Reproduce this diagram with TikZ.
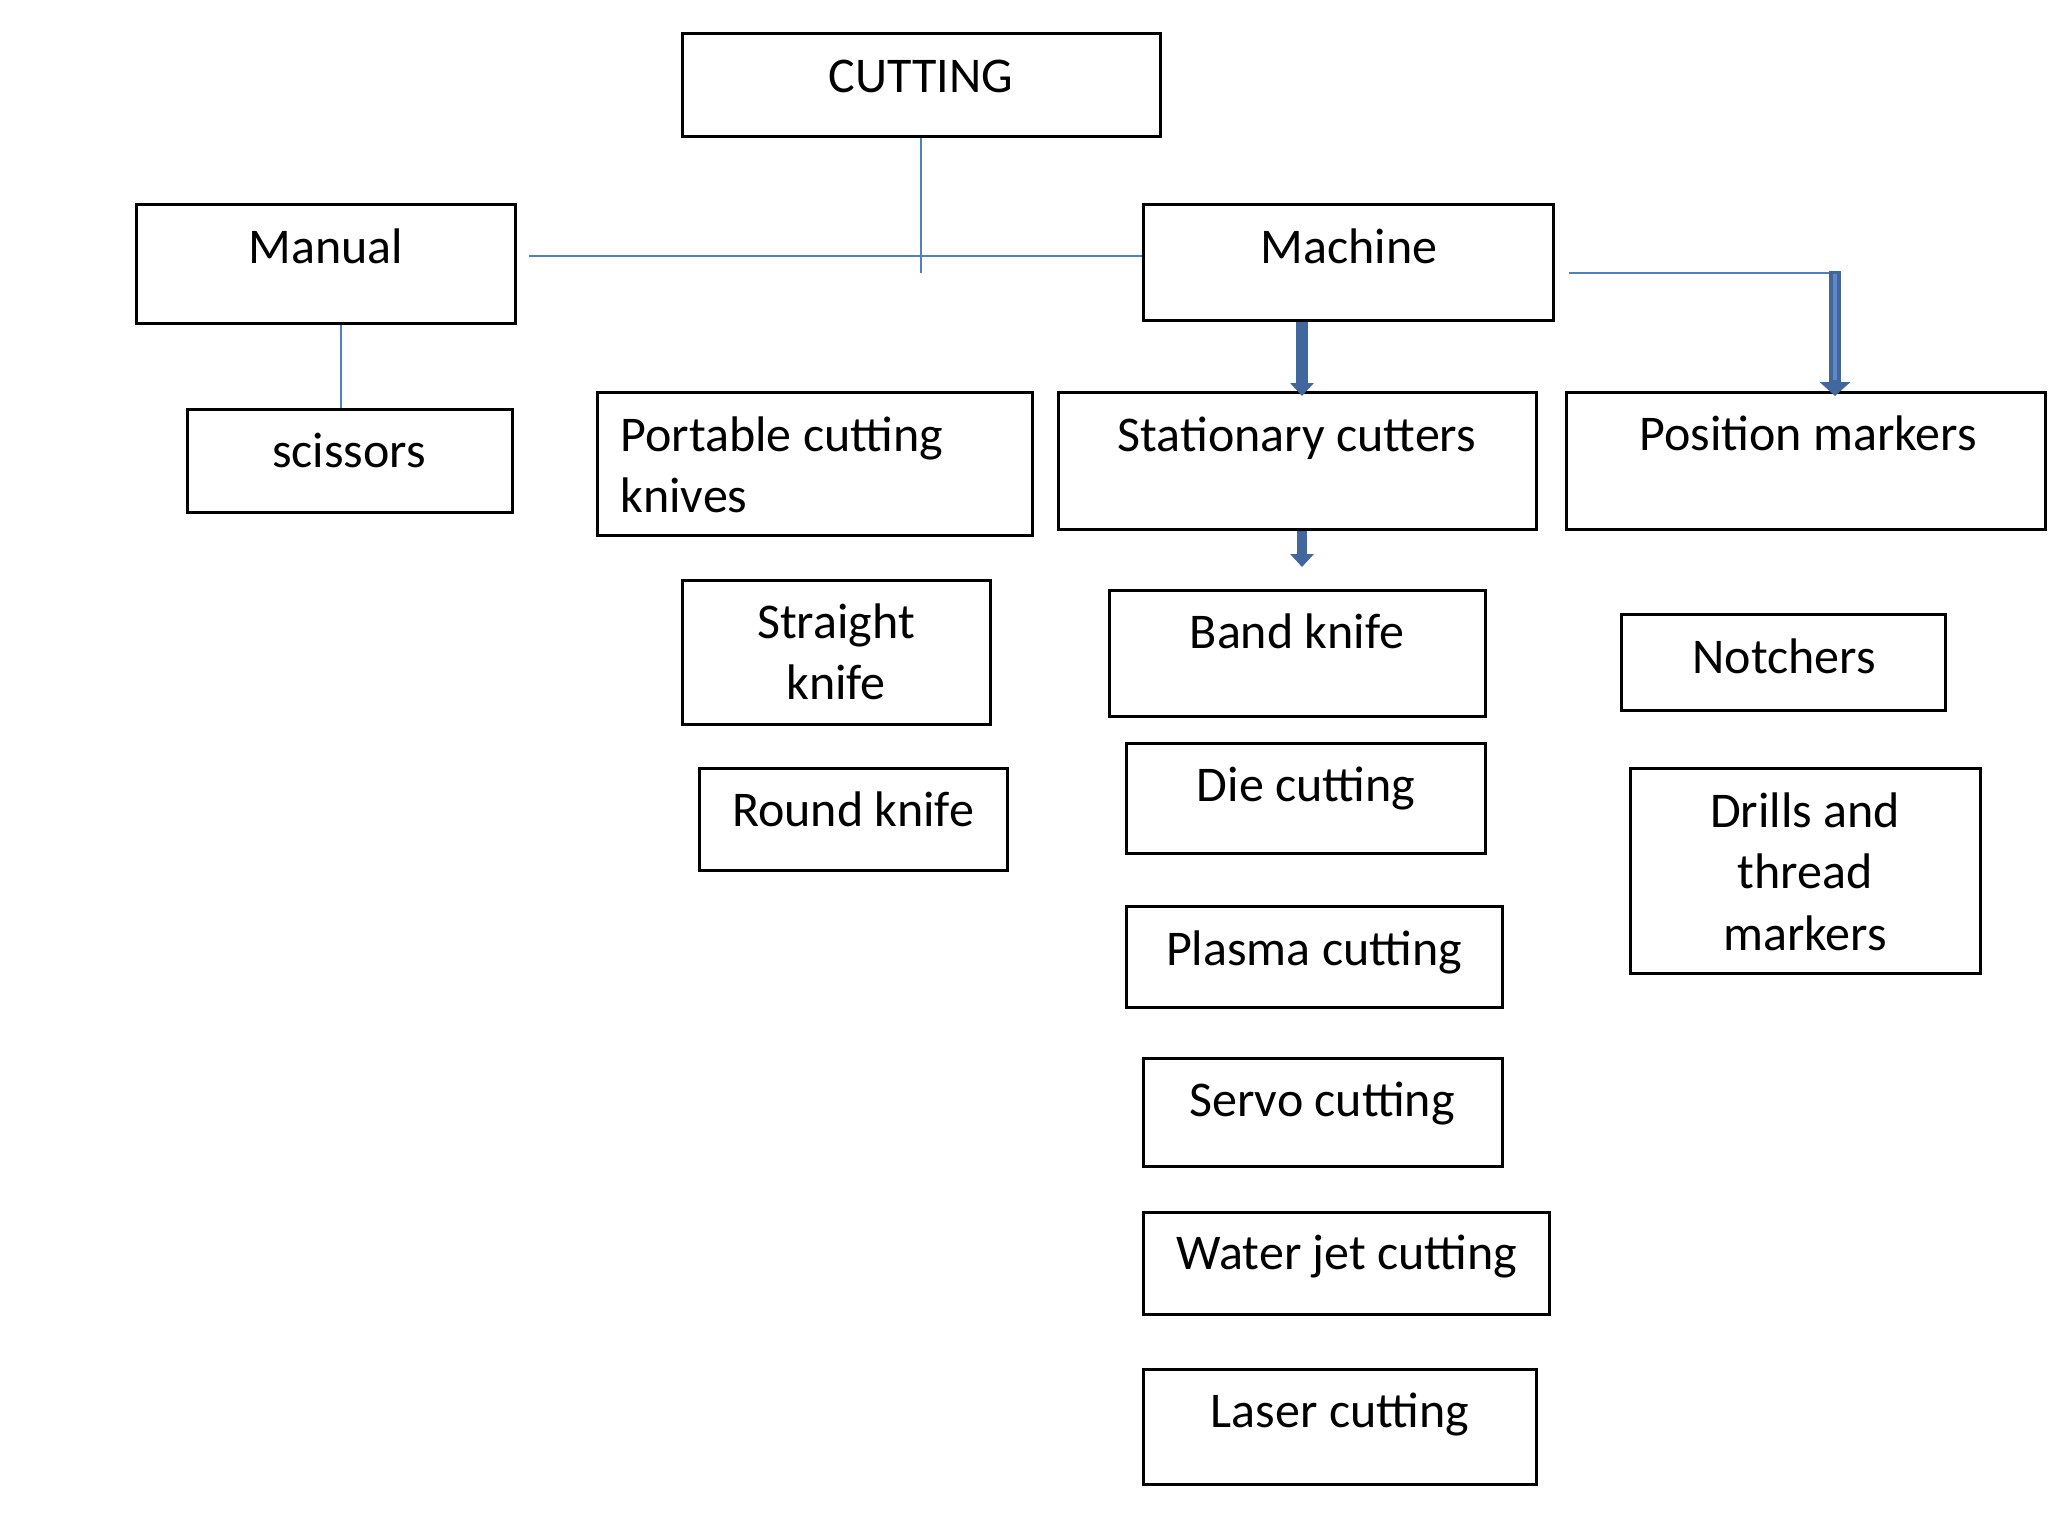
\documentclass[tikz,border=0pt]{standalone}
\usepackage{fontspec}
\setmainfont{Carlito}
\usetikzlibrary{arrows.meta,fit,calc}
\definecolor{linkblue}{HTML}{4F81BD}
\definecolor{arrowblue}{HTML}{41679D}
\definecolor{stripeblue}{HTML}{5F88C4}
\begin{document}
\begin{tikzpicture}[x=0.5pt,y=-0.5pt,
  box/.style={draw=black,line width=1.5pt,inner sep=0pt,rectangle},
  txt/.style={inner sep=0pt,font=\fontsize{25}{30.75}\selectfont,anchor=base},
  thinlink/.style={draw=linkblue,line width=1pt},
  bigarrow/.style={draw=arrowblue,line width=6pt,-{Triangle[width=11.5pt,length=6.5pt]}},
  widearrow/.style={draw=arrowblue,line width=6.3pt,-{Triangle[width=15pt,length=7pt]}},
  smallarrow/.style={draw=arrowblue,line width=5pt,-{Triangle[width=11.5pt,length=6.5pt]}}]
\useasboundingbox[fill=white] (0,0) rectangle (2048,1536);

% boxes
\node[box,fit={(682,34)(1160,136)}] (cut) {};
\node[box,fit={(136,204)(515,323)}] (man) {};
\node[box,fit={(1143,204)(1553,320)}] (mac) {};
\node[box,fit={(187,409)(512,512)}] (sci) {};
\node[box,fit={(597,392)(1032,535)}] (port) {};
\node[box,fit={(1058,392)(1536,529)}] (stat) {};
\node[box,fit={(1566,392)(2045,529)}] (pos) {};
\node[box,fit={(682,580)(990,724)}] (str) {};
\node[box,fit={(699,768)(1007,870)}] (rnd) {};
\node[box,fit={(1109,590)(1485,716)}] (band) {};
\node[box,fit={(1126,743)(1485,853)}] (die) {};
\node[box,fit={(1126,906)(1502,1007)}] (plas) {};
\node[box,fit={(1143,1058)(1502,1166)}] (servo) {};
\node[box,fit={(1143,1212)(1549,1314)}] (water) {};
\node[box,fit={(1143,1369)(1536,1484)}] (laser) {};
\node[box,fit={(1621,614)(1945,710)}] (notch) {};
\node[box,fit={(1630,768)(1980,973)}] (drill) {};

% texts
\node[txt] (tcut) at (921,92) {CUTTING};
\node[txt] (tman) at (326,263) {Manual};
\node[txt] (tmac) at (1349,263) {Machine};
\node[txt] (tsci) at (349,467) {scissors};
\node[txt,anchor=base west] (tport) at (620,451) {\begin{tabular}[t]{@{}l@{}}Portable cutting\\knives\end{tabular}};
\node[txt] (tstat) at (1297,451) {Stationary cutters};
\node[txt] (tpos) at (1808,450) {Position markers};
\node[txt] (tstr) at (836,638) {\begin{tabular}[t]{@{}c@{}}Straight\\knife\end{tabular}};
\node[txt] (trnd) at (853,826) {Round knife};
\node[txt] (tband) at (1297,648) {Band knife};
\node[txt] (tdie) at (1306,801) {Die cutting};
\node[txt] (tplas) at (1314,965) {Plasma cutting};
\node[txt] (tservo) at (1322,1116) {Servo cutting};
\node[txt] (twater) at (1347,1269) {Water jet cutting};
\node[txt] (tlaser) at (1340,1427) {Laser cutting};
\node[txt] (tnotch) at (1784,673) {Notchers};
\node[txt] (tdrill) at (1805,827) {\begin{tabular}[t]{@{}c@{}}Drills and\\thread\\markers\end{tabular}};

% connectors
\coordinate (hl) at (529,256);
\coordinate (vj) at (921,273);
\coordinate (msx) at (341,0);
\coordinate (mr) at (1569,273);
\coordinate (pc) at (1835,271);
\coordinate (ptip) at (1835,396);
\coordinate (ax) at (1302,0);
\coordinate (stip) at (1302,396);
\coordinate (btip) at (1302,567);

\draw[thinlink] (hl) -- (mac.west |- hl);
\draw[thinlink] (cut.south) -- (vj);
\draw[thinlink] (man.south -| msx) -- (sci.north -| msx);
\draw[thinlink] (mr) -- (pc |- mr);
\draw[widearrow] (pc) -- (ptip);
\draw[stripeblue,line width=1.6pt] (1835,274) -- (1835,380);
\draw[bigarrow] (mac.south -| ax) -- (stip);
\draw[smallarrow] (stat.south -| ax) -- (btip);
\end{tikzpicture}
\end{document}
